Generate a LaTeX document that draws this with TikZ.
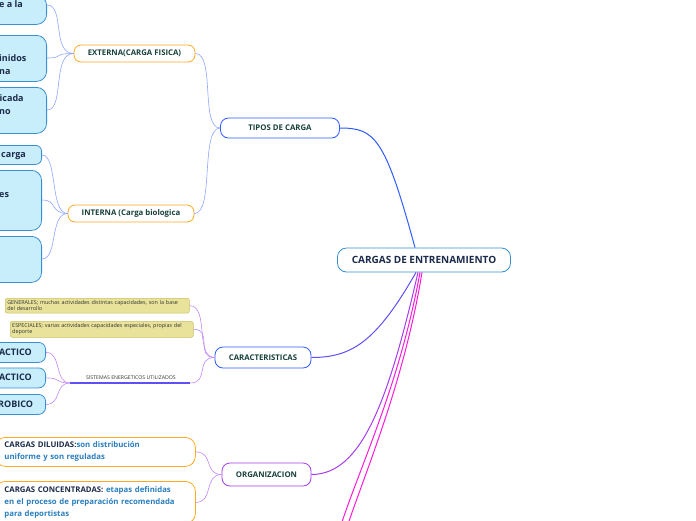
\documentclass[tikz,border=0pt]{standalone}
\usepackage{fontspec}
\setmainfont{Open Sans}
\usetikzlibrary{calc}
\definecolor{txt}{HTML}{17403A}
\definecolor{navy}{HTML}{1B2B4A}
\definecolor{lb}{HTML}{C8EDFB}
\definecolor{lbd}{HTML}{3A8FD0}
\definecolor{blu}{HTML}{2F5CFF}
\definecolor{lblu}{HTML}{8DA6FF}
\definecolor{org}{HTML}{FFAA22}
\definecolor{pur}{HTML}{A53CF0}
\definecolor{lpur}{HTML}{C28AF5}
\definecolor{mag}{HTML}{FF1AD9}
\definecolor{yel}{HTML}{E8E29A}
\definecolor{yeld}{HTML}{C8C060}
\definecolor{bt}{HTML}{2A7FC0}
\tikzset{
 main/.style={draw=lbd,fill=white,rounded corners=9pt,line width=0.8pt,font=\bfseries\fontsize{10}{12}\selectfont,text=navy,minimum height=24pt,inner xsep=0pt},
 sub/.style={draw=blu,fill=white,rounded corners=8pt,line width=0.8pt,font=\bfseries\fontsize{7.8}{9}\selectfont,text=txt,inner xsep=0pt},
 osub/.style={draw=org,fill=white,rounded corners=7pt,line width=0.8pt,font=\bfseries\fontsize{7.8}{9}\selectfont,text=txt,inner xsep=0pt},
 leaf/.style={draw=lbd,fill=lb,rounded corners=10pt,line width=0.8pt,anchor=north east,inner sep=0pt},
 lt/.style={font=\bfseries\fontsize{9}{14}\selectfont,text=navy,align=left,anchor=west,inner sep=0pt},
 yl/.style={draw=yeld,fill=yel,rounded corners=2pt,line width=0.5pt,font=\fontsize{5.4}{6.6}\selectfont,text=black!80,align=left,anchor=north west,inner sep=2pt},
 ol/.style={draw=org,fill=white,rounded corners=10pt,line width=0.8pt,font=\bfseries\fontsize{7.8}{12}\selectfont,text=navy,align=left,anchor=north west,inner xsep=9pt,inner ysep=3pt},
 lk/.style={line width=0.6pt},
}
\begin{document}
\begin{tikzpicture}[x=1pt,y=-1pt]
\useasboundingbox (0,0) rectangle (696,520);
% nodes
\node[main,minimum width=173pt] (c) at (424,260) {CARGAS DE ENTRENAMIENTO};
\node[sub,minimum width=119pt,minimum height=20pt] (t) at (280,128) {TIPOS DE CARGA};
\node[osub,minimum width=121pt,minimum height=17pt] (ex) at (134.5,53.5) {EXTERNA(CARGA FISICA)};
\node[osub,minimum width=126pt,minimum height=17pt] (in) at (131,213.5) {INTERNA (Carga biologica};
\node[sub,minimum width=96pt,minimum height=21pt] (ca) at (263,357.5) {CARACTERISTICAS};
\node[sub,draw=pur,minimum width=89pt,minimum height=23pt] (or) at (266.5,474.5) {ORGANIZACION};
% left leaves
\node[leaf,minimum width=100pt,minimum height=29pt] (l1) at (47,-5) {};
\node[leaf,minimum width=100pt,minimum height=46pt] (l2) at (47,35) {};
\node[leaf,minimum width=100pt,minimum height=46pt] (l3) at (47,87) {};
\node[leaf,minimum width=100pt,minimum height=19pt,rounded corners=6pt] (l4) at (42,145) {};
\node[leaf,minimum width=100pt,minimum height=60pt] (l5) at (42,170) {};
\node[leaf,minimum width=100pt,minimum height=46pt] (l6) at (42,236) {};
\node[lt] (t1) at (-1,4) {e a la};
\node[lt] (t2) at (-1,58) {inidos};
\node[lt] (t2b) at (-1,72) {na};
\node[lt] (t3) at (-0.5,98) {icada};
\node[lt] (t3b) at (-1,112) {no};
\node[lt] (t4) at (1,156) {carga};
\node[lt] (t5) at (-1,195) {es};
% yellow
\node[yl,text width=180pt] (g) at (5,298) {GENERALES; muchas actividades distintas capacidades, son la base del desarrollo};
\node[yl,text width=179pt] (e) at (10,321) {ESPECIALES; varias actividades capacidades especiales, propias del deporte};
% sistemas
\node[font=\fontsize{5.2}{6}\selectfont,text=black!80,inner sep=1pt] (s) at (131,377.5) {SISTEMAS ENERGETICOS UTILIZADOS};
\coordinate (sl) at (70,383);
\coordinate (sr) at (190,383);
\draw[line width=1.2pt,blu!60!pur] (sl) -- (sr);
\node[leaf,minimum width=100pt,minimum height=20pt,rounded corners=7pt] (a1) at (46,342) {};
\node[leaf,minimum width=100pt,minimum height=20pt,rounded corners=7pt] (a2) at (46,367.5) {};
\node[leaf,minimum width=100pt,minimum height=20pt,rounded corners=7pt] (a3) at (46,394) {};
\node[lt] (ta1) at (-1,352) {ACTICO};
\node[lt] (ta2) at (-1,377.5) {ACTICO};
\node[lt] (ta3) at (-2,404) {ROBICO};
% orange leaves
\node[ol,text width=182pt,minimum height=29pt] (d1) at (-5,437) {CARGAS DILUIDAS:{\color{bt}son  distribución}\\{\color{bt}uniforme y son reguladas}};
\node[ol,text width=182pt,minimum height=42pt] (d2) at (-5,481) {CARGAS CONCENTRADAS: {\color{bt}etapas definidas}\\{\color{bt}en el proceso de preparación recomendada}\\{\color{bt}para deportistas}};
% connectors
\draw[lk,blu,line width=1pt] ($(c.north)+(-9,0)$) .. controls +(-30,-110) and +(35,0) .. (t.east);
\draw[lk,blu!60!pur,line width=1pt] ($(c.south)+(-8,0)$) .. controls +(-40,70) and +(40,0) .. (ca.east);
\draw[lk,pur,line width=1pt] ($(c.south)+(-6,0)$) .. controls +(-30,130) and +(50,0) .. (or.east);
\coordinate (m1) at (342,522);
\coordinate (m2) at (346,530);
\draw[lk,mag,line width=1pt] ($(c.south)+(-4,0)$) .. controls +(-20,110) and +(20,-60) .. (m1);
\draw[lk,mag,line width=1pt] ($(c.south)+(-2,0)$) .. controls +(-18,110) and +(20,-60) .. (m2);
\foreach \a in {ex,in} \draw[lk,lblu] (t.west) .. controls +(-20,0) and +(20,0) .. (\a.east);
\foreach \a/\y in {l1/5,l2/58,l3/110} \draw[lk,lblu] (ex.west) .. controls +(-22,0) and +(18,0) .. (47,\y);
\foreach \a/\y in {l4/155,l5/200,l6/259} \draw[lk,lblu] (in.west) .. controls +(-18,0) and +(16,0) .. (42,\y);
\draw[lk,lpur] (ca.west) .. controls +(-20,0) and +(20,0) .. (g.east);
\draw[lk,lpur] (ca.west) .. controls +(-20,0) and +(20,0) .. (e.east);
\draw[lk,lpur] (ca.west) .. controls +(-20,0) and +(20,0) .. (sr);
\foreach \a in {a1,a2,a3} \draw[lk,lpur] (sl) .. controls +(-16,0) and +(16,0) .. (\a.east);
\foreach \a in {d1,d2} \draw[lk,lpur] (or.west) .. controls +(-18,0) and +(18,0) .. (\a.east);
\end{tikzpicture}
\end{document}
